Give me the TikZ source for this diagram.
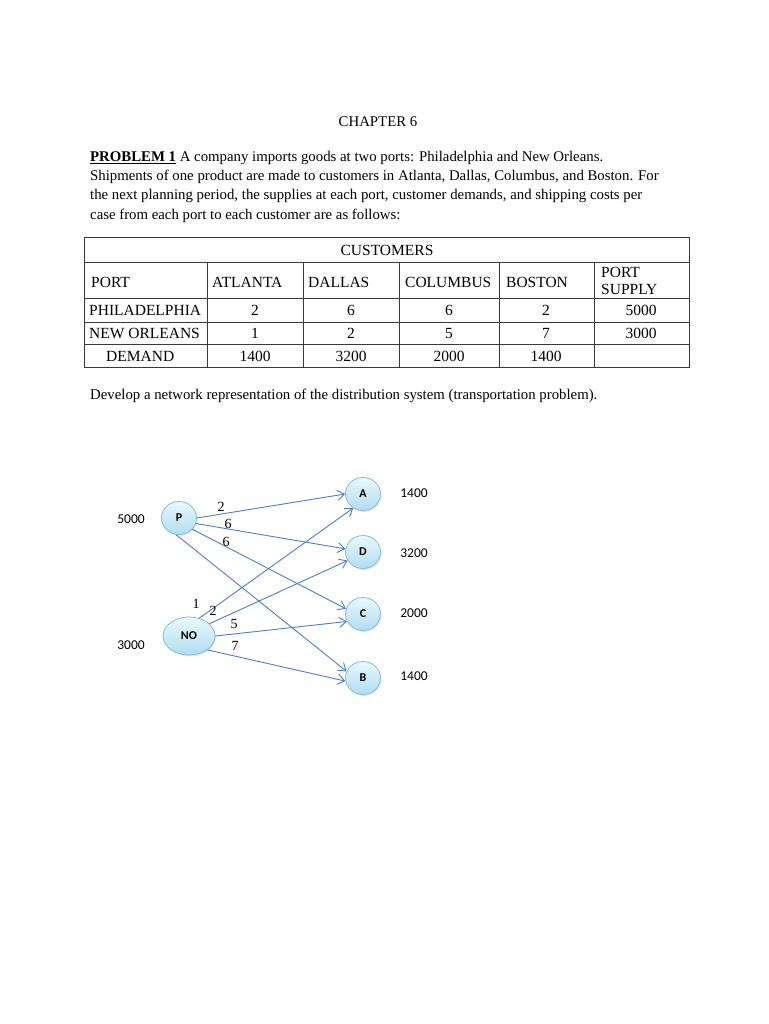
\documentclass[tikz,border=0pt]{standalone}
\usepackage{fontspec}
\setmainfont{Liberation Serif}
\newfontfamily\calibri{Carlito}
\usetikzlibrary{arrows.meta,shapes.geometric,shadows}
\definecolor{edgeblue}{HTML}{4F81BD}
\definecolor{nodeedge}{HTML}{86BFDA}
\definecolor{nodetop}{HTML}{EAF8FD}
\definecolor{nodebot}{HTML}{B0DDF1}
\definecolor{gridgray}{HTML}{3A3A3A}
\begin{document}
\begin{tikzpicture}[x=1pt, y=-1pt,
    txt/.style={anchor=base west, inner sep=0pt, font=\fontsize{14.8}{16}\selectfont},
    cell/.style={anchor=base, inner sep=0pt, font=\fontsize{15.5}{17}\selectfont},
    lcell/.style={cell, anchor=base west},
    port/.style={ellipse, draw=nodeedge, line width=0.8pt, top color=nodetop, bottom color=nodebot,
        minimum width=35pt, minimum height=33pt, inner sep=0pt,
        font=\calibri\bfseries\fontsize{12}{12}\selectfont,
        drop shadow={opacity=0.2, shadow xshift=1pt, shadow yshift=-1.5pt}},
    amount/.style={inner sep=0pt, font=\calibri\fontsize{13.5}{14}\selectfont},
    cost/.style={inner sep=0pt, font=\fontsize{14}{14}\selectfont},
    flow/.style={draw=edgeblue, line width=0.9pt, -{Straight Barb[length=7pt,width=10pt]}}]
    \useasboundingbox[fill=white] (0,0) rectangle (768,1024);

    % 1. Heading and problem text
    \node[txt, anchor=base] (title) at (378,127) {CHAPTER 6};
    \node[txt] (line1) at (90,162) {\underline{\textbf{PROBLEM 1}} A company imports goods at two ports: Philadelphia and New Orleans.};
    \node[txt] (line2) at (90,181) {Shipments of one product are made to customers in Atlanta, Dallas, Columbus, and Boston. For};
    \node[txt] (line3) at (90,200) {the next planning period, the supplies at each port, customer demands, and shipping costs per};
    \node[txt] (line4) at (90,219) {case from each port to each customer are as follows:};

    % 2. Table
    \draw[gridgray, line width=0.8pt] (84,237) rectangle (689,367);
    \foreach \y in {262,298,322,344}
        \draw[gridgray, line width=0.8pt] (84,\y) -- (689,\y);
    \foreach \x in {207,303,399,499,594}
        \draw[gridgray, line width=0.8pt] (\x,262) -- (\x,367);

    \node[cell] (hcust) at (387,255) {CUSTOMERS};
    \node[lcell] (hport) at (91,287) {PORT};
    \node[lcell] (hatl) at (212,287) {ATLANTA};
    \node[lcell] (hdal) at (308,287) {DALLAS};
    \node[lcell] (hcol) at (405,287) {COLUMBUS};
    \node[lcell] (hbos) at (506,287) {BOSTON};
    \node[lcell] (hsup1) at (601,277) {PORT};
    \node[lcell] (hsup2) at (601,294) {SUPPLY};

    \node[lcell] (rphi) at (89,315) {PHILADELPHIA};
    \node[lcell] (rno) at (89,338) {NEW ORLEANS};
    \node[lcell] (rdem) at (106,361) {DEMAND};

    \foreach \x/\a/\b/\c in {255/2/1/1400, 351/6/2/3200, 449/6/5/2000, 546/2/7/1400}{
        \node[cell] at (\x,315) {\a};
        \node[cell] at (\x,338) {\b};
        \node[cell] at (\x,361) {\c};
    }
    \node[cell] (sphi) at (641,315) {5000};
    \node[cell] (sno) at (641,338) {3000};

    \node[txt] (task) at (90,399) {Develop a network representation of the distribution system (transportation problem).};

    % 3. Network
    \node[port] (P) at (179,518) {P};
    \node[port, minimum width=52pt, minimum height=38pt] (NO) at (189,636) {NO};
    \node[port] (A) at (363,494) {A};
    \node[port] (D) at (363,552) {D};
    \node[port] (C) at (363,614) {C};
    \node[port] (B) at (363,678) {B};

    \node[amount] (supP) at (131,519) {5000};
    \node[amount] (supNO) at (131,645) {3000};
    \node[amount] (demA) at (414,493) {1400};
    \node[amount] (demD) at (414,553) {3200};
    \node[amount] (demC) at (414,613) {2000};
    \node[amount] (demB) at (414,676) {1400};

    \draw[flow] (P.0) -- (A.180);
    \draw[flow] (P.-18) -- (D.170);
    \draw[flow] (P.-40) -- (C.163);
    \draw[flow] (P.-100) -- (B.158);
    \draw[flow] (NO.60) -- (A.235);
    \draw[flow] (NO.31) -- (D.209);
    \draw[flow] (NO.0) -- (C.205);
    \draw[flow] (NO.-37) -- (B.190);

    % costs
    \node[cost] (cPA) at (221,507) {2};
    \node[cost] (cPD) at (228,524) {6};
    \node[cost] (cPC) at (226,542) {6};
    \node[cost] (cNA) at (196,604) {1};
    \node[cost] (cND) at (213,611) {2};
    \node[cost] (cNC) at (234,624) {5};
    \node[cost] (cNB) at (235,646) {7};
\end{tikzpicture}
\end{document}
